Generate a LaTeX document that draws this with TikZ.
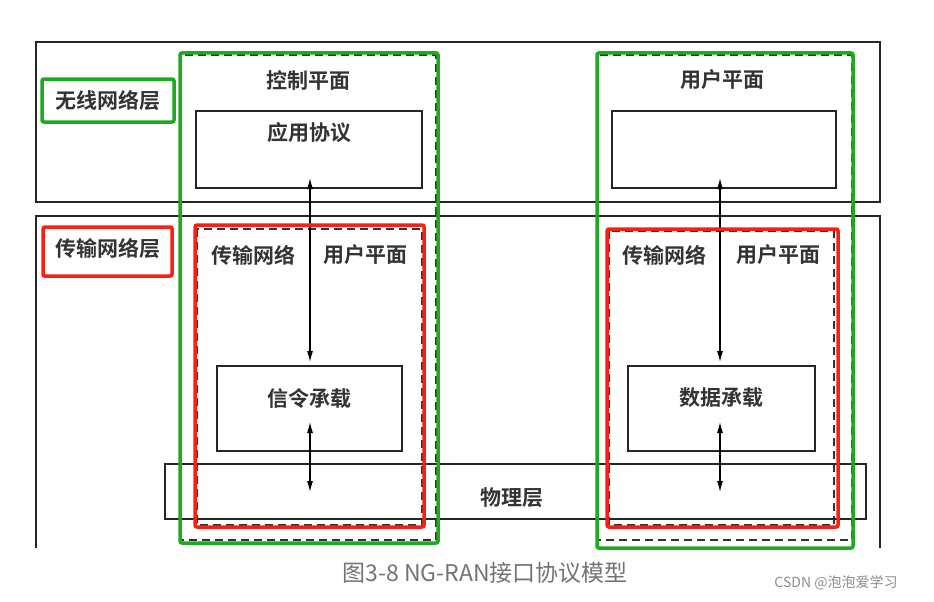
\documentclass[tikz,border=0pt]{standalone}
\usepackage{fontspec}
\usetikzlibrary{arrows.meta}
\setmainfont{Noto Sans CJK SC}[BoldFont={Noto Sans CJK SC Bold}]
\begin{document}
\begin{tikzpicture}[x=1pt,y=-1pt,>={Latex[length=11pt,width=6pt]},
  box/.style={draw=black!85,line width=1.4pt},
  dbox/.style={draw=black!80,line width=1.4pt,dash pattern=on 8pt off 5pt},
  gbox/.style={draw={rgb,255:red,30;green,170;blue,30},line width=3.5pt,rounded corners=2pt},
  rbox/.style={draw={rgb,255:red,250;green,30;blue,20},line width=3.5pt,rounded corners=2pt},
  lbl/.style={font=\fontsize{21}{23}\selectfont\bfseries,text=black!80,inner sep=0pt},
  arr/.style={<->,line width=1.1pt}]
\useasboundingbox (0,0) rectangle (934,602);
\draw[box] (36,42) rectangle (880,202);
\draw[box] (36,548) -- (36,216) -- (880,216) -- (880,548);
% dashed planes
\draw[dbox] (180,55) rectangle (436,540);
\draw[dbox] (597,55) rectangle (852,540);
\draw[dbox] (197,229) rectangle (422,525);
\draw[dbox] (609,231) rectangle (834,525);
% boxes
\node[box,minimum width=226pt,minimum height=77pt] (app) at (309,149.5) {};
\node[lbl] at (309,133) {应用协议};
\node[box,minimum width=224pt,minimum height=77pt] (uapp) at (724,149.5) {};
\node[box,minimum width=185pt,minimum height=85pt] (sig) at (309.5,408.5) {};
\node[lbl] at (309.5,398) {信令承载};
\node[box,minimum width=187pt,minimum height=85pt] (dat) at (721.5,408.5) {};
\node[lbl] at (721.5,398) {数据承载};
\node[box,minimum width=701pt,minimum height=55pt] (phy) at (515.5,491.5) {};
\node[lbl] (phyt) at (512,498) {物理层};
% arrows
\coordinate (a1) at (310,178); \coordinate (a2) at (310,362);
\coordinate (a3) at (310,422); \coordinate (a4) at (310,492);
\coordinate (b1) at (720,178); \coordinate (b2) at (720,362);
\coordinate (b3) at (720,422); \coordinate (b4) at (720,492);
\draw[arr] (a1) -- (a2); \draw[arr] (a3) -- (a4);
\draw[arr] (b1) -- (b2); \draw[arr] (b3) -- (b4);
% texts
\node[lbl] at (308,80) {控制平面};
\node[lbl] at (722,80) {用户平面};
\node[lbl] at (108,100) {无线网络层};
\node[lbl] at (108,248) {传输网络层};
\node[lbl,fill=white,inner sep=1pt] at (253,255) {传输网络};
\node[lbl,fill=white,inner sep=1pt] at (365,255) {用户平面};
\node[lbl,fill=white,inner sep=1pt] at (664,255) {传输网络};
\node[lbl,fill=white,inner sep=1pt] at (778,255) {用户平面};
% highlights
\draw[gbox] (42,79) rectangle (174,122);
\draw[gbox] (180,53) rectangle (438,543);
\draw[gbox] (597,53) rectangle (853,548);
\draw[rbox] (43,227) rectangle (172,276);
\draw[rbox] (195,225) rectangle (424,527);
\draw[rbox] (607,229) rectangle (838,527);
% caption
\node[font=\fontsize{23}{25}\selectfont,text=black!55] (cap) at (485,573) {图3-8 NG-RAN接口协议模型};
\node[font=\fontsize{14}{16}\selectfont,text=black!45] (wm) at (836,583) {CSDN @泡泡爱学习};
\end{tikzpicture}
\end{document}
